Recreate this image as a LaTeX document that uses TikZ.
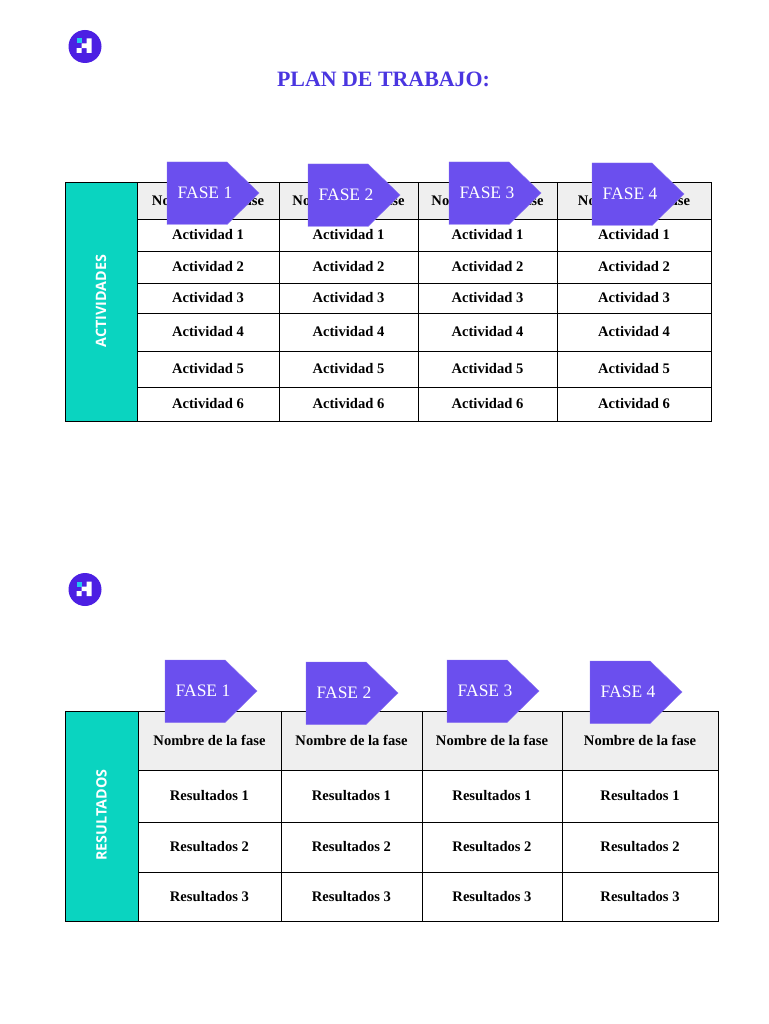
\documentclass[tikz,border=0pt]{standalone}
\usepackage{fontspec}
\setmainfont{Liberation Serif}
\newfontfamily\sidefont{Open Sans}
\definecolor{logoblue}{HTML}{4C1FE3}
\definecolor{logocyan}{HTML}{22C8F0}
\definecolor{titleblue}{HTML}{4A35E0}
\definecolor{arrowblue}{HTML}{6B4FEE}
\definecolor{sideteal}{HTML}{0AD4C0}
\definecolor{headgray}{HTML}{EFEFEF}
\tikzset{
 cellbox/.style={draw=black,line width=0.8pt,inner sep=0pt,font=\fontsize{14.6}{16}\selectfont\bfseries,align=center},
 sidebox/.style={draw=black,line width=0.8pt,fill=sideteal,inner sep=0pt},
 sidetext/.style={text=white,rotate=90,font=\sidefont\fontsize{14.3}{16}\selectfont\bfseries,inner sep=0pt},
 fasetext/.style={text=white,font=\fontsize{17.5}{19}\selectfont,inner sep=0pt},
 arrowshape/.style={fill=arrowblue,draw=arrowblue!80!white,line width=0.4pt},
 titletext/.style={text=titleblue,font=\fontsize{21.9}{24}\selectfont\bfseries,inner sep=0pt},
}
% logo at centre (#1,#2)
\newcommand{\drawlogo}[3]{%
 \begin{scope}[shift={(#1,#2)}]
  \node[circle,fill=logoblue,minimum size=33pt,inner sep=0pt] (#3) at (0,0) {};
  \fill[logocyan] (-8.3,-8) rectangle (-3.4,-3);
  \fill[white] (-8.3,1.6) rectangle (-3.4,6.5)
     (-3.4,-3) rectangle (1.5,1.6)
     (1.5,-8) rectangle (6.5,6.5);
 \end{scope}}
% arrow: left x, top y, name, label
\newcommand{\fasearrow}[4]{%
 \draw[arrowshape] (#1,#2) -- ++(60,0) -- ++(32,31) -- ++(-32,31.5) -- ++(-60,0) -- cycle;
 \node[fasetext] (#3) at (#1+38,#2+31) {#4};}
\begin{document}
\begin{tikzpicture}[x=1pt,y=-1pt]
\useasboundingbox (0,0) rectangle (768,1024);
\fill[white] (0,0) rectangle (768,1024);
\drawlogo{85}{46.5}{logoa}
\drawlogo{85}{589.5}{logob}
\node[titletext] (title) at (383.5,79.5) {PLAN DE TRABAJO:};
% top table
\node[sidebox,minimum width=72pt,minimum height=239pt] (sidea) at (101,301.5) {};
\node[sidetext] (sidealabel) at (101,301) {ACTIVIDADES};
\def\xs{{137,279,418,557,711}}
\def\ys{{182,219,251,283,313,351,387,421}}
\foreach \c in {0,1,2,3}{
 \pgfmathsetmacro{\xa}{\xs[\c]}\pgfmathsetmacro{\xb}{\xs[\c+1]}
 \foreach \r in {0,...,6}{
  \pgfmathsetmacro{\ya}{\ys[\r]}\pgfmathsetmacro{\yb}{\ys[\r+1]}
  \pgfmathtruncatemacro{\act}{\r}
  \ifnum\r=0
   \node[cellbox,fill=headgray,minimum width=\xb-\xa,minimum height=\yb-\ya] (a\c\r) at ({(\xa+\xb)/2},{(\ya+\yb)/2}) {Nombre de la fase};
  \else
   \node[cellbox,minimum width=\xb-\xa,minimum height=\yb-\ya] (a\c\r) at ({(\xa+\xb)/2},{(\ya+\yb)/2}) {Actividad \act};
  \fi
 }
}
\fasearrow{167}{162}{fa1}{FASE 1}
\fasearrow{308}{164}{fa2}{FASE 2}
\fasearrow{449}{162}{fa3}{FASE 3}
\fasearrow{592}{163}{fa4}{FASE 4}
% bottom table
\node[sidebox,minimum width=73pt,minimum height=210pt] (sideb) at (101.5,816.5) {};
\node[sidetext] (sideblabel) at (101.5,815) {RESULTADOS};
\def\xt{{138,281,422,562,718}}
\def\yt{{711,770,822,872,921.5}}
\foreach \c in {0,1,2,3}{
 \pgfmathsetmacro{\xa}{\xt[\c]}\pgfmathsetmacro{\xb}{\xt[\c+1]}
 \foreach \r in {0,...,3}{
  \pgfmathsetmacro{\ya}{\yt[\r]}\pgfmathsetmacro{\yb}{\yt[\r+1]}
  \pgfmathtruncatemacro{\act}{\r}
  \ifnum\r=0
   \node[cellbox,fill=headgray,minimum width=\xb-\xa,minimum height=\yb-\ya] (b\c\r) at ({(\xa+\xb)/2},{(\ya+\yb)/2}) {Nombre de la fase};
  \else
   \node[cellbox,minimum width=\xb-\xa,minimum height=\yb-\ya] (b\c\r) at ({(\xa+\xb)/2},{(\ya+\yb)/2}) {Resultados \act};
  \fi
 }
}
\fasearrow{165}{660}{fb1}{FASE 1}
\fasearrow{306}{662}{fb2}{FASE 2}
\fasearrow{447}{660}{fb3}{FASE 3}
\fasearrow{590}{661}{fb4}{FASE 4}
\end{tikzpicture}
\end{document}
